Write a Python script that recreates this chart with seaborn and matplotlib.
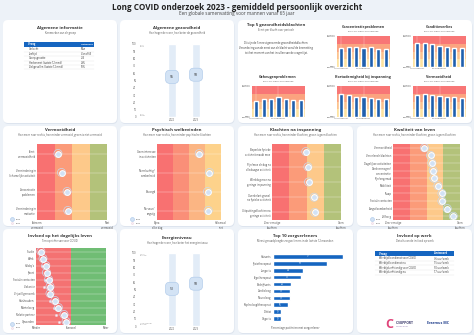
import numpy as np
import pandas as pd
import matplotlib
matplotlib.use("Agg")
import matplotlib.pyplot as plt
import seaborn as sns
from matplotlib.patches import FancyBboxPatch, Rectangle

# ---------------- data ----------------
info_vraag = ["Geslacht", "Leeftijd", "Groepsgrootte", "Herbesmet (laatste 12 mnd)", "Ziekgevallen (laatste 12 mnd)"]
info_antwoord = ["Man", "Vanaf 65", "213", "23%", "61%"]

jaren = ["2022", "2023"]
gezondheid_scores = [55, 58]
energie_scores = [51, 58]

vragenlijsten = ["1e vragenlijst", "2e vragenlijst", "3e vragenlijst", "4e vragenlijst",
                 "5e vragenlijst", "6e vragenlijst", "7e vragenlijst"]
concentratie = [60, 65, 63, 62, 63, 58, 58]
conditie = [76, 76, 73, 68, 65, 62, 62]
geheugen = [53, 59, 59, 63, 59, 56, 56]
kortademig = [73, 71, 66, 66, 61, 59, 59]
vermoeid_top = [70, 74, 72, 68, 66, 65, 62]

verm_items = ["Ernst\nvermoeidheid", "Vermindering in\nlichamelijke activiteit", "Concentratie\nproblemen", "Vermindering in\nmotivatie"]
verm_vals = [30, 35, 43, 44]

psy_items = ["Geen interesse\nin activiteiten", "Neerslachtig/\nsomberheid", "Bezorgd", "Nerveus/\nangstig"]
psy_vals = [66, 82, 79, 80]

ins_items = ["Beperkte fysieke\nactiviteit maakt moe", "Pijn/moe de dag na\nalledaagse activiteit", "Werkdag moe na\ngeringe inspanning",
             "Overbelast gevoel\nna fysieke activiteit", "Uitputtingsklachten na\ngeringe activiteit"]
ins_vals = [49, 52, 53, 61, 62]

kwal_items = ["Vermoeidheid", "Vervelende klachten", "Dagelijkse activiteiten", "Denkvermogen/\nconcentratie", "Pijn/ongemak",
              "Mobiliteit", "Slaap", "Sociale contacten", "Angst/somberheid", "Zelfzorg"]
kwal_vals = [47, 56, 58, 60, 61, 67, 73, 73, 81, 90]

dag_items = ["Studie", "Werk", "Hobby's", "Sport", "Sociale contacten", "Vakantie", "Vrijwilligerswerk",
             "Huishouden", "Mantelzorg", "Relatie partner", "Opvoeden"]
dag_2023 = [7, 10, 14, 15, 18, 20, 20, 27, 32, 40, 43]
dag_2022 = [8, 9, 8, 14, 13, 11, 20, 20, 26, 28, 33]

zorg_names = ["Huisarts", "Fysiotherapeut", "Longarts", "Ergotherapeut", "Bedrijfsarts", "Cardioloog",
              "Neuroloog", "Psycholoog/therapeut", "Diëtist", "Oogarts"]
zorg_vals = [77, 59, 33, 31, 20, 19, 19, 16, 9, 9]

werk_vraag = ["Werktijd loondienst voor COVID", "Werktijd loondienst nu", "Werktijd zelfstandig voor COVID", "Werktijd zelfstandig nu"]
werk_antwoord = ["36 uur/week", "15 uur/week", "50 uur/week", "17 uur/week"]

# ---------------- style ----------------
sns.set_theme(style="white")
plt.rcParams['font.family'] = ['Open Sans', 'DejaVu Sans']
plt.rcParams['axes.linewidth'] = 0

W, H = 474, 335
BG = '#edf2f8'
BLUE = '#1f5fae'
TXT = '#333333'
fig = plt.figure(figsize=(W / 100, H / 100), dpi=100, facecolor=BG)

bg = fig.add_axes([0, 0, 1, 1], zorder=-10)
bg.set_xlim(0, W)
bg.set_ylim(H, 0)
bg.axis('off')
bg.set_facecolor(BG)


def add_ax(x0, y0, x1, y1):
    return fig.add_axes([x0 / W, 1 - y1 / H, (x1 - x0) / W, (y1 - y0) / H])


def panel(x0, y0, x1, y1):
    bg.add_patch(FancyBboxPatch((x0 + 0.5, y0 + 1), x1 - x0, y1 - y0, boxstyle="round,pad=0,rounding_size=5",
                                fc='#dde4ee', ec='none', zorder=0))
    bg.add_patch(FancyBboxPatch((x0, y0), x1 - x0, y1 - y0, boxstyle="round,pad=0,rounding_size=5",
                                fc='white', ec='none', zorder=1))


def ptitle(x, y, t, s):
    bg.text(x, y, t, ha='center', va='center', fontsize=3.1, fontweight='bold', color=TXT, zorder=5)
    bg.text(x, y + 5, s, ha='center', va='center', fontsize=1.9, color='#555555', zorder=5)


# title
bg.text(W / 2, 7, "Long COVID onderzoek 2023 - gemiddeld persoonlijk overzicht", ha='center', va='center',
        fontsize=5.9, fontweight='bold', color='#222222')
bg.text(W / 2, 13.5, "Een globale samenvatting voor mannen vanaf 65 jaar", ha='center', va='center',
        fontsize=3.3, color='#444444')

# panels
cols4 = [(3, 117), (120, 234), (238, 353), (357, 472)]
panel(3, 20, 117, 123)
panel(120, 20, 234, 123)
panel(238, 20, 472, 123)
for (a, b) in cols4:
    panel(a, 126, b, 226)
    panel(a, 229, b, 333)

# ---------- Algemene informatie table ----------
ptitle(60, 28, "Algemene informatie", "Kenmerken van de groep")
tx0, tx1 = 24, 94
bg.add_patch(Rectangle((tx0, 42), tx1 - tx0, 5, fc='#1565c0', ec='none', zorder=3))
bg.text(tx0 + 4, 44.5, "Vraag", fontsize=1.8, color='white', fontweight='bold', va='center', zorder=4)
bg.text(81, 44.5, "Antwoord", fontsize=1.7, color='white', fontweight='bold', va='center', zorder=4)
for i, (q, a) in enumerate(zip(info_vraag, info_antwoord)):
    yy = 49.5 + i * 4.4
    bg.text(tx0 + 5, yy, q, fontsize=1.8, color=TXT, va='center', zorder=4)
    bg.text(81, yy, a, fontsize=1.8, color=TXT, va='center', zorder=4)
    bg.plot([tx0, tx1], [yy + 2.2, yy + 2.2], color='#e6e6e6', lw=0.3, zorder=3)


# ---------- score tracks ----------
def score_panel(x0, y_top, y_bot, scores, title, sub, top_lbl, bot_lbl, ty):
    ptitle(x0 + 57, ty, title, sub)
    ax = add_ax(x0 + 18, y_top, x0 + 88, y_bot)
    df = pd.DataFrame({"jaar": jaren, "score": scores})
    sns.barplot(data=df.assign(full=100), x="jaar", y="full", color='#e2ecf7', width=0.34, ax=ax, saturation=1)
    ax.set_ylim(0, 100)
    ax.set_xlim(-1.42, 1.5)
    ax.set_yticks(range(0, 101, 10))
    ax.tick_params(axis='y', labelsize=1.9, length=0, pad=1.2, colors='#555555')
    ax.tick_params(axis='x', labelsize=1.9, length=0, pad=1, colors='#555555')
    ax.set_xlabel("")
    ax.set_ylabel("")
    ax.set_facecolor('none')
    for i, v in enumerate(df["score"]):
        ax.text(i, v, str(v), ha='center', va='center', fontsize=2.5, color='#333333',
                bbox=dict(boxstyle='round,pad=1.3,rounding_size=1.2', fc='#d3e3f5', ec='#a9c6e8', lw=0.4))
    ax.text(-1.33, 99, top_lbl, fontsize=1.5, color='#999999', va='top', ha='left', linespacing=1.1)
    ax.text(-1.33, 1, bot_lbl, fontsize=1.5, color='#999999', va='bottom', ha='left', linespacing=1.1)
    sns.despine(ax=ax, left=True, bottom=True)


score_panel(120, 44, 117, gezondheid_scores, "Algemene gezondheid", "Hoe hoger de score, hoe beter de gezondheid",
            "Zeer\ngoed", "Zeer\nslecht", 28)
score_panel(120, 253, 326, energie_scores, "Energieniveau", "Hoe hoger de score, hoe beter het energieniveau",
            "Veel\nenergie", "Heel weinig\nenergie", 238)

# ---------- Top 5 ----------
bg.text(276, 25, "Top 5 gezondheidsklachten", ha='center', va='center', fontsize=3.1, fontweight='bold', color=TXT)
bg.text(276, 30, "Ernst per klacht over periode", ha='center', va='center', fontsize=1.9, color='#555555')
bg.text(276, 48, "Dit zijn de 5 meest genoemde gezondheidsklachten.\nVerandering van de ernst van de klacht vanaf de besmetting\ntot het moment van het invullen van de vragenlijst.",
        ha='center', va='center', fontsize=1.9, color=TXT, linespacing=1.3)
small = [("Concentratieproblemen", concentratie, 337, 36),
         ("Conditieverlies", conditie, 413, 36),
         ("Geheugenproblemen", geheugen, 252, 86),
         ("Kortademigheid bij inspanning", kortademig, 337, 86),
         ("Vermoeidheid", vermoeid_top, 413, 86)]
band_cols = ['#fde3a0', '#fcc38e', '#fba37f', '#f87676']
for name, vals, x0, y0 in small:
    bg.text(x0 + 26, y0 - 9, name, ha='center', va='center', fontsize=2.6, fontweight='bold', color=TXT)
    bg.text(x0 + 26, y0 - 4.5, "Ernst per klacht over periode", ha='center', va='center', fontsize=1.6, color='#555555')
    ax = add_ax(x0, y0, x0 + 53, y0 + 31)
    for k, c in enumerate(band_cols):
        ax.axhspan(k * 25, (k + 1) * 25, color=c, lw=0, zorder=0)
    df = pd.DataFrame({"v": vragenlijsten, "w": vals})
    sns.barplot(data=df, x="v", y="w", color=BLUE, width=0.55, ax=ax, saturation=1, zorder=3)
    ax.set_ylim(0, 100)
    ax.set_xlim(-0.6, len(vals) - 0.4)
    ax.grid(axis='x', color='white', lw=0.3, alpha=0.6)
    ax.set_yticks([100, 0])
    ax.set_yticklabels(["Extreme\nklachten", "Geen\nklachten"])
    ax.set_xticks([0, 3])
    ax.set_xticklabels([vragenlijsten[0], "2e vragenlijst"])
    ax.tick_params(labelsize=1.6, length=0, pad=1, colors='#555555')
    ax.set_xlabel("")
    ax.set_ylabel("")


# ---------- dot panels ----------
def dot_panel(col, items, vals, title, sub, bands, left_lbl, right_lbl, y_top, y_bot, bx0, bx1,
              vals2=None, ty=130):
    x0, x1 = col
    ptitle((x0 + x1) / 2, ty, title, sub)
    ax = add_ax(bx0, y_top, bx1, y_bot)
    n = len(bands)
    for k, c in enumerate(bands):
        ax.axvspan(k * 100 / n, (k + 1) * 100 / n, color=c, lw=0, zorder=0)
    ypos = np.arange(len(items))
    for yy in ypos:
        ax.axhline(yy, color='white', lw=0.3, alpha=0.7, zorder=1)
    df = pd.DataFrame({"item": items, "v": vals})
    if vals2 is not None:
        df2 = pd.DataFrame({"item": items, "v": vals2})
        sns.scatterplot(data=df2, x="v", y="item", s=3, color='#f6eef4', edgecolor='#e7c9d9', linewidth=0.3, ax=ax, zorder=4)
    sns.scatterplot(data=df, x="v", y="item", s=34, color='none', edgecolor='#c8daf0', linewidth=0.5, ax=ax, zorder=4)
    sns.scatterplot(data=df, x="v", y="item", s=17, color='#d2e2f5', edgecolor='white', linewidth=0.7, ax=ax, zorder=5)
    ax.set_xlim(0, 100)
    ax.set_ylim(len(items) - 0.5, -0.5)
    ax.set_xticks([0, 100])
    ax.set_xticklabels([left_lbl, right_lbl])
    ax.set_xlabel("")
    ax.set_ylabel("")
    ax.tick_params(labelsize=1.9, length=0, pad=1, colors='#444444')
    return ax


dot_panel(cols4[0], verm_items, verm_vals, "Vermoeidheid",
          "Hoe meer naar rechts, hoe minder vermoeid, groen is niet vermoeid",
          ['#f87171', '#fb9b79', '#fdc98a', '#b3c27a'], "Extreem\nvermoeid", "Niet\nvermoeid",
          144, 220, 37, 107)
dot_panel(cols4[1], psy_items, psy_vals, "Psychisch welbevinden",
          "Hoe meer naar rechts, hoe minder psychische klachten",
          ['#f87171', '#fa8f78', '#fbb583', '#fdd28b'], "Bijna\nelke dag", "Helemaal\nniet",
          144, 220, 157, 221)
dot_panel(cols4[2], ins_items, ins_vals, "Klachten na inspanning",
          "Hoe meer naar rechts, hoe minder klachten, groen is geen klachten",
          ['#f87171', '#fb9b79', '#fdc98a', '#b3c27a'], "Zeer ernstige\nklachten", "Geen\nklachten",
          144, 220, 272, 341)
dot_panel(cols4[3], kwal_items, kwal_vals, "Kwaliteit van leven",
          "Hoe meer naar rechts, hoe minder klachten, groen is geen klachten",
          ['#f87171', '#fb9b79', '#fdc98a', '#b3c27a'], "Zeer ernstige\nklachten", "Geen\nklachten",
          144, 220, 393, 460)
dag_ax = dot_panel(cols4[0], dag_items, dag_2023, "Invloed op het dagelijks leven",
                   "Ten opzichte van voor COVID",
                   ['#f47272', '#70bd74'], "Minder", "Meer", 248, 325, 36, 106, vals2=dag_2022, ty=236)
dag_ax.set_xticks([0, 50, 100])
dag_ax.set_xticklabels(["Minder", "Evenveel", "Meer"])


def legend_dots(x, y):
    bg.scatter([x], [y], s=8, color='#d2e2f5', edgecolor='#a9c6e8', linewidth=0.4, zorder=6)
    bg.scatter([x], [y + 4], s=2, color='#f6eef4', edgecolor='#e7c9d9', linewidth=0.3, zorder=6)
    bg.text(x + 4, y, "2023", fontsize=1.6, va='center', color='#555555', zorder=6)
    bg.text(x + 4, y + 4, "2022", fontsize=1.6, va='center', color='#555555', zorder=6)


legend_dots(12, 219)
legend_dots(132, 219)
legend_dots(372, 219)
legend_dots(12, 324)

# ---------- Top 10 zorgverleners ----------
ptitle(295.5, 236, "Top 10 zorgverleners", "Meest geraadpleegde zorgverleners in de laatste 12 maanden")
ax = add_ax(273, 253, 346, 322)
dfz = pd.DataFrame({"naam": zorg_names, "pct": zorg_vals})
sns.barplot(data=dfz, y="naam", x="pct", color='#1565c0', width=0.66, ax=ax, saturation=1, orient='h')
for i, v in enumerate(dfz["pct"]):
    ax.text(v / 2, i, str(v), ha='center', va='center', fontsize=1.8, color='white')
ax.set_xlim(0, 80)
ax.set_xticks([])
ax.set_xlabel("")
ax.set_ylabel("")
ax.tick_params(labelsize=1.9, length=0, pad=1, colors='#444444')
bg.text(295.5, 328, "Percentage patiënten met zorgverlener", ha='center', va='center', fontsize=1.9, color='#444444')

# ---------- Invloed op werk ----------
ptitle(414.5, 236, "Invloed op werk", "Details van de invloed op werk")
tx0, tx1 = 375, 454
bg.add_patch(Rectangle((tx0, 251), tx1 - tx0, 5, fc='#1565c0', ec='none', zorder=3))
bg.text(tx0 + 4, 253.5, "Vraag", fontsize=1.9, color='white', fontweight='bold', va='center', zorder=4)
bg.text(434, 253.5, "Antwoord", fontsize=1.9, color='white', fontweight='bold', va='center', zorder=4)
for i, (q, a) in enumerate(zip(werk_vraag, werk_antwoord)):
    yy = 258.5 + i * 4.6
    bg.text(tx0 + 4, yy, q, fontsize=1.8, color=TXT, va='center', zorder=4)
    bg.text(434, yy, a, fontsize=1.8, color=TXT, va='center', zorder=4)
    bg.plot([tx0, tx1], [yy + 2.3, yy + 2.3], color='#e6e6e6', lw=0.3, zorder=3)

# logos as text
bg.text(389, 324, "C", fontsize=9, fontweight='bold', color='#e0457b', va='center', ha='center', zorder=5)
bg.text(396, 323, "C-SUPPORT", fontsize=2.3, fontweight='bold', color='#333366', va='center', zorder=5)
bg.text(396, 326.5, "Long COVID", fontsize=1.5, color='#7a5aa0', va='center', zorder=5)
bg.text(427, 323, "Erasmus MC", fontsize=2.6, fontweight='bold', color='#1c3b8a', va='center', zorder=5)

fig.savefig("out.png", dpi=100, facecolor=BG)
